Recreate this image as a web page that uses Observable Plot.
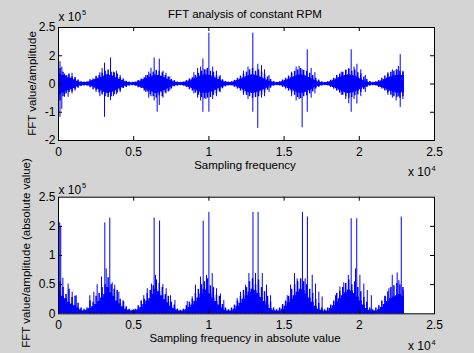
<!DOCTYPE html>
<html><head><meta charset="utf-8">
<script src="https://cdn.jsdelivr.net/npm/d3@7"></script>
<script src="https://cdn.jsdelivr.net/npm/@observablehq/plot@0.6"></script>
<style>
html,body{margin:0;padding:0;background:#d4d4d4;}
#fig{position:relative;width:474px;height:353px;background:#d4d4d4;overflow:hidden;font-family:"Liberation Sans",Arial,sans-serif;}
#fig svg{position:absolute;left:0;}
</style></head><body><div id="fig"></div>
<script>
// ---------- data ----------
const xTicks = [0, 5000, 10000, 15000, 20000, 25000];
const xTickLabels = ["0", "0.5", "1", "1.5", "2", "2.5"];
const topYTicks = [-2, -1, 0, 1, 2];
const topYTickLabels = ["-2", "-1", "0", "2", "2.5"];
const botYTicks = [0, 0.5, 1, 1.5, 2];
const botYTickLabels = ["0", "0.5", "1", "2", "2.5"];

// sampling grids (Hz)
const binFreq = d3.range(0, 23001, 200);
const toothFreq = d3.range(100, 23000, 200);

// top plot: dense mass envelope (upper / lower)
const topHi = [0.35,0.3,0.26,0.22,0.2,0.15,0.1,0.06,0.05,0.05,0.08,0.12,0.16,0.2,0.24,0.28,0.33,0.3,0.27,0.22,0.17,0.12,0.08,0.05,0.04,0.05,0.07,0.11,0.16,0.2,0.24,0.28,0.32,0.3,0.27,0.22,0.17,0.12,0.08,0.05,0.04,0.05,0.07,0.11,0.15,0.2,0.25,0.29,0.33,0.32,0.3,0.26,0.21,0.16,0.11,0.07,0.05,0.05,0.08,0.12,0.17,0.21,0.26,0.3,0.33,0.31,0.28,0.24,0.19,0.14,0.09,0.06,0.04,0.05,0.08,0.12,0.17,0.22,0.26,0.3,0.33,0.31,0.28,0.23,0.18,0.12,0.08,0.05,0.04,0.05,0.08,0.13,0.18,0.23,0.27,0.3,0.33,0.31,0.28,0.24,0.19,0.13,0.08,0.05,0.04,0.05,0.07,0.11,0.16,0.21,0.25,0.28,0.3,0.32,0.3,0.28];
const topLo = [-0.38,-0.32,-0.27,-0.24,-0.2,-0.16,-0.11,-0.07,-0.05,-0.05,-0.07,-0.11,-0.15,-0.2,-0.25,-0.3,-0.34,-0.31,-0.28,-0.23,-0.18,-0.13,-0.08,-0.06,-0.04,-0.05,-0.08,-0.12,-0.16,-0.21,-0.25,-0.29,-0.34,-0.32,-0.28,-0.23,-0.18,-0.13,-0.08,-0.05,-0.04,-0.05,-0.08,-0.12,-0.16,-0.21,-0.26,-0.31,-0.34,-0.33,-0.31,-0.27,-0.22,-0.17,-0.12,-0.08,-0.05,-0.05,-0.07,-0.11,-0.16,-0.21,-0.27,-0.31,-0.34,-0.32,-0.29,-0.25,-0.2,-0.15,-0.1,-0.06,-0.04,-0.05,-0.07,-0.11,-0.16,-0.21,-0.26,-0.31,-0.34,-0.32,-0.29,-0.24,-0.19,-0.13,-0.09,-0.06,-0.04,-0.05,-0.08,-0.12,-0.17,-0.22,-0.27,-0.31,-0.34,-0.32,-0.29,-0.25,-0.2,-0.14,-0.09,-0.06,-0.04,-0.05,-0.08,-0.12,-0.17,-0.22,-0.26,-0.29,-0.32,-0.34,-0.31,-0.3];
// top plot: teeth between envelope bins (max / min)
const topTeethHi = [0.55,0.42,0.3,0.35,0.25,0.22,0.14,0.08,0.07,0.08,0.15,0.18,0.25,0.3,0.38,0.45,0.5,0.42,0.4,0.35,0.22,0.18,0.1,0.07,0.06,0.07,0.12,0.18,0.22,0.3,0.35,0.42,0.48,0.45,0.4,0.3,0.25,0.16,0.12,0.07,0.06,0.07,0.12,0.18,0.22,0.3,0.38,0.45,0.5,0.55,0.45,0.42,0.3,0.25,0.15,0.09,0.07,0.08,0.13,0.2,0.28,0.35,0.42,0.5,0.55,0.45,0.5,0.42,0.35,0.25,0.16,0.09,0.06,0.08,0.14,0.2,0.28,0.38,0.45,0.5,0.55,0.48,0.45,0.38,0.3,0.2,0.14,0.08,0.06,0.08,0.13,0.2,0.3,0.35,0.42,0.48,0.52,0.45,0.5,0.4,0.35,0.25,0.16,0.09,0.06,0.08,0.12,0.2,0.28,0.35,0.42,0.45,0.5,0.45,0.42];
const topTeethLo = [-0.6,-0.45,-0.35,-0.3,-0.28,-0.2,-0.15,-0.09,-0.07,-0.08,-0.13,-0.2,-0.22,-0.32,-0.35,-0.45,-0.48,-0.45,-0.38,-0.32,-0.25,-0.16,-0.12,-0.07,-0.06,-0.08,-0.13,-0.16,-0.25,-0.28,-0.38,-0.45,-0.5,-0.42,-0.45,-0.32,-0.28,-0.18,-0.1,-0.08,-0.06,-0.08,-0.12,-0.2,-0.25,-0.32,-0.4,-0.48,-0.52,-0.5,-0.48,-0.4,-0.35,-0.28,-0.17,-0.1,-0.07,-0.07,-0.12,-0.18,-0.25,-0.32,-0.4,-0.45,-0.52,-0.48,-0.45,-0.4,-0.32,-0.22,-0.15,-0.08,-0.06,-0.07,-0.12,-0.18,-0.25,-0.32,-0.4,-0.48,-0.52,-0.45,-0.42,-0.35,-0.28,-0.18,-0.12,-0.07,-0.06,-0.07,-0.12,-0.18,-0.25,-0.32,-0.4,-0.45,-0.5,-0.48,-0.42,-0.38,-0.3,-0.2,-0.12,-0.07,-0.06,-0.07,-0.12,-0.18,-0.25,-0.32,-0.4,-0.45,-0.48,-0.5,-0.45];

// top plot spikes: [frequency, min, max]
const topSpikes = [
 [100,-1.18,0.79],[220,-0.9,0.6],[400,-0.47,0.35],[640,-0.47,0.3],[900,-0.35,0.38],[1100,-0.25,0.22],
 [2500,-0.3,0.28],[2750,-0.45,0.4],[2900,-0.4,0.55],[3060,-1.18,0.74],[3460,-0.59,0.92],[3650,-0.45,0.42],[3850,-0.38,0.45],[4100,-0.3,0.3],
 [5800,-0.3,0.3],[6000,-0.5,0.42],[6150,-0.45,0.55],[6360,-0.6,0.92],[6560,-1.0,0.3],[6700,-0.76,0.88],[6950,-0.5,0.45],[7150,-0.35,0.38],[7400,-0.25,0.25],
 [9000,-0.35,0.4],[9250,-0.5,0.55],[9450,-0.6,0.6],[9600,-1.0,0.88],[9800,-0.55,0.5],[10000,-1.0,1.8],[10250,-0.55,0.6],[10500,-0.45,0.45],[10750,-0.3,0.3],
 [12300,-0.4,0.45],[12600,-0.55,0.6],[12920,-1.0,1.8],[13250,-1.57,0.7],[13500,-0.5,0.65],[13700,-0.45,0.5],[14000,-0.3,0.3],
 [15500,-0.45,0.42],[15800,-0.6,0.6],[16000,-0.55,0.62],[16200,-1.55,0.5],[16540,-1.0,1.21],[16800,-0.5,0.55],[17050,-0.35,0.4],
 [18800,-0.4,0.42],[19100,-0.55,0.5],[19300,-0.7,0.55],[19460,-1.0,1.21],[19650,-0.55,0.6],[19840,-0.71,0.7],[20100,-0.45,0.5],[20400,-0.3,0.3],
 [21900,-0.4,0.4],[22200,-0.5,0.5],[22450,-0.6,0.5],[22600,-0.45,0.62],[22720,-0.83,1.04],[22900,-0.55,0.45]
];

// bottom plot: dense mass envelope (absolute value)
const botBase = [0.38,0.3,0.26,0.2,0.17,0.14,0.1,0.07,0.05,0.06,0.09,0.12,0.16,0.21,0.27,0.33,0.45,0.36,0.3,0.22,0.17,0.12,0.08,0.06,0.05,0.05,0.07,0.11,0.16,0.22,0.26,0.33,0.42,0.38,0.31,0.24,0.19,0.13,0.09,0.06,0.05,0.05,0.07,0.11,0.15,0.21,0.27,0.34,0.42,0.4,0.34,0.27,0.21,0.15,0.1,0.06,0.05,0.05,0.08,0.13,0.18,0.25,0.31,0.37,0.42,0.4,0.35,0.28,0.21,0.15,0.09,0.06,0.05,0.05,0.08,0.13,0.19,0.25,0.31,0.37,0.42,0.4,0.34,0.27,0.2,0.13,0.08,0.06,0.05,0.05,0.09,0.14,0.2,0.26,0.31,0.36,0.41,0.39,0.35,0.29,0.22,0.15,0.09,0.06,0.05,0.05,0.07,0.11,0.16,0.21,0.26,0.29,0.31,0.33,0.3,0.28];
// bottom plot: teeth between envelope bins
const botTeeth = [0.55,0.45,0.33,0.42,0.28,0.3,0.18,0.1,0.08,0.1,0.22,0.2,0.3,0.35,0.45,0.5,0.62,0.5,0.42,0.4,0.25,0.22,0.12,0.08,0.06,0.08,0.14,0.22,0.25,0.35,0.4,0.48,0.58,0.52,0.45,0.33,0.3,0.2,0.15,0.08,0.06,0.08,0.14,0.2,0.25,0.35,0.42,0.5,0.55,0.6,0.48,0.45,0.32,0.3,0.16,0.1,0.07,0.1,0.15,0.22,0.3,0.4,0.45,0.55,0.6,0.5,0.58,0.45,0.38,0.3,0.2,0.1,0.07,0.1,0.16,0.22,0.3,0.42,0.5,0.55,0.6,0.55,0.5,0.42,0.35,0.25,0.18,0.1,0.07,0.1,0.15,0.22,0.35,0.38,0.45,0.52,0.58,0.5,0.55,0.45,0.38,0.28,0.2,0.1,0.07,0.1,0.14,0.22,0.3,0.38,0.45,0.48,0.52,0.5,0.45];

// bottom plot spikes: [frequency, height]
const botSpikes = [
 [80,1.56],[150,1.5],[290,0.61],[640,0.51],[910,0.37],[1180,0.31],[2080,0.31],[2350,0.37],[2570,0.5],[2860,0.63],
 [3080,1.56],[3170,0.77],[3410,1.64],[3570,0.53],[3740,0.49],[4010,0.37],[4340,0.2],
 [5670,0.31],[5900,0.43],[6180,0.51],[6360,1.64],[6450,0.66],[6720,1.59],[6940,0.5],[7160,0.43],[7450,0.31],[7740,0.23],
 [8560,0.21],[8890,0.29],[9110,0.49],[9440,0.63],[9620,1.59],[9840,0.66],[10000,1.74],[10220,0.69],[10510,0.43],[10770,0.34],[10990,0.23],
 [11880,0.26],[12100,0.37],[12440,0.49],[12660,0.69],[12930,1.74],[13100,0.69],[13270,1.74],[13550,0.69],[13830,0.49],[14100,0.31],
 [15210,0.31],[15430,0.49],[15690,0.69],[15870,0.6],[16220,1.74],[16400,0.6],[16550,1.66],[16870,0.66],[17090,0.51],[17310,0.37],[17530,0.29],
 [18420,0.31],[18710,0.46],[18970,0.53],[19270,0.66],[19460,1.63],[19750,0.77],[19830,1.63],[20040,0.66],[20300,0.51],[20530,0.4],[20800,0.31],
 [21750,0.29],[21970,0.43],[22190,0.66],[22520,0.7],[22630,0.57],[22790,1.66],[22920,0.4]
];

// ---------- build ----------
const topEnv = binFreq.map((f, i) => ({f, lo: topLo[i], hi: topHi[i]}));
const botEnv = binFreq.map((f, i) => ({f, v: botBase[i]}));
const topTeeth = toothFreq.map((f, i) => ({f, lo: topTeethLo[i], hi: topTeethHi[i]}));
const botTeethD = toothFreq.map((f, i) => ({f, v: botTeeth[i]}));
const topSp = topSpikes.map(([f, lo, hi]) => ({f, lo, hi}));
const botSp = botSpikes.map(([f, v]) => ({f, v}));

const FONT = '"Liberation Sans", Arial, sans-serif';
const BLUE = "#0000ff";
const W = 474, ML = 58, MR = 40;
const PW = W - ML - MR;

function panel({height, mt, mb, yDomain, yTicks, yLabels, marks}) {
  const PH = height - mt - mb;
  const xl = new Map(xTicks.map((t, i) => [t, xTickLabels[i]]));
  const yl = new Map(yTicks.map((t, i) => [t, yLabels[i]]));
  const inner = yTicks.slice(1, -1);
  const innerX = xTicks.slice(1, -1);
  return Plot.plot({
    width: W, height, marginLeft: ML, marginRight: MR, marginTop: mt, marginBottom: mb,
    style: {background: "none", fontFamily: FONT, fontSize: "12px", color: "#000"},
    x: {domain: [0, 25000]},
    y: {domain: yDomain},
    marks: [
      Plot.frame({fill: "white", stroke: null}),
      ...marks,
      Plot.tickX(innerX, {x: d => d, insetTop: PH - 4, stroke: "#000"}),
      Plot.tickX(innerX, {x: d => d, insetBottom: PH - 4, stroke: "#000"}),
      Plot.tickY(inner, {y: d => d, insetRight: PW - 4, stroke: "#000"}),
      Plot.tickY(inner, {y: d => d, insetLeft: PW - 4, stroke: "#000"}),
      Plot.frame({stroke: "#000", strokeWidth: 1}),
      Plot.axisX(xTicks, {tickSize: 0, tickPadding: 6.5, tickFormat: d => xl.get(d), label: null, fontSize: 12, fill: "#000"}),
      Plot.axisY(yTicks, {tickSize: 0, tickPadding: 3, tickFormat: d => yl.get(d), label: null, fontSize: 12, fill: "#000"})
    ]
  });
}

const topSvg = panel({
  height: 176, mt: 27, mb: 36, yDomain: [-2, 2], yTicks: topYTicks, yLabels: topYTickLabels,
  marks: [
    Plot.areaY(topEnv, {x: "f", y1: "lo", y2: "hi", curve: "step-after", fill: BLUE}),
    Plot.ruleX(topTeeth, {x: "f", y1: "lo", y2: "hi", stroke: BLUE, strokeWidth: 1.5}),
    Plot.ruleX(topSp, {x: "f", y1: "lo", y2: "hi", stroke: BLUE, strokeWidth: 1})
  ]
});
const botSvg = panel({
  height: 177, mt: 20.7, mb: 39.7, yDomain: [0, 2], yTicks: botYTicks, yLabels: botYTickLabels,
  marks: [
    Plot.areaY(botEnv, {x: "f", y1: 0, y2: "v", curve: "step-after", fill: BLUE}),
    Plot.ruleX(botTeethD, {x: "f", y1: 0, y2: "v", stroke: BLUE, strokeWidth: 1.5}),
    Plot.ruleX(botSp, {x: "f", y1: 0, y2: "v", stroke: BLUE, strokeWidth: 1})
  ]
});

const fig = document.getElementById("fig");
topSvg.style.top = "0px";
botSvg.style.top = "176px";
fig.appendChild(topSvg);
fig.appendChild(botSvg);

// ---------- text overlay ----------
const ov = d3.select(fig).append("svg")
  .attr("width", 474).attr("height", 353)
  .style("top", "0px").style("pointer-events", "none")
  .attr("font-family", FONT).attr("fill", "#000");

function txt(x, y, s, size, anchor = "start", rot = 0) {
  const t = ov.append("text").attr("font-size", size).attr("text-anchor", anchor).text(s);
  if (rot) t.attr("transform", `translate(${x},${y}) rotate(${rot})`);
  else t.attr("x", x).attr("y", y);
  return t;
}
function expo(x, y, base, e) {
  txt(x, y, base, 12);
  txt(x + 23.5, y - 5.5, e, 7.5);
}

txt(245, 17.5, "FFT analysis of constant RPM", 11.5, "middle");
txt(245, 169, "Sampling frequency", 11.5, "middle");
txt(36, 83.5, "FFT value/amplitude", 11.5, "middle", -90);
expo(58.5, 20.5, "x 10", "5");
expo(408, 176, "x 10", "4");

txt(245, 342, "Sampling frequency in absolute value", 11.5, "middle");
txt(30, 253, "FFT value/amplitude (absolute value)", 11.5, "middle", -90);
expo(58.5, 193.5, "x 10", "5");
expo(408, 350, "x 10", "4");
</script></body></html>
